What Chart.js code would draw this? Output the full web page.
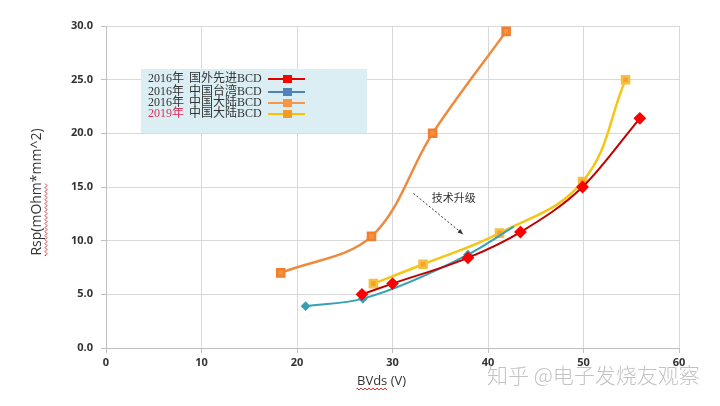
<!DOCTYPE html>
<html><head><meta charset="utf-8">
<script src="https://cdn.jsdelivr.net/npm/chart.js@4/dist/chart.umd.min.js"></script>
<style>html,body{margin:0;padding:0;background:#fff}#wrap{width:720px;height:406px;position:relative}</style>
</head><body><div id="wrap"><canvas id="c" width="720" height="406"></canvas></div>
<script>
const seriesLabels = ['国外先进BCD', '中国台湾BCD', '中国大陆BCD', '中国大陆BCD'];
const seriesYears = ['2016年', '2016年', '2016年', '2019年'];
const redX = [26.8, 30.0, 37.9, 43.4, 49.9, 55.9];
const redY = [5.0, 6.0, 8.4, 10.8, 15.0, 21.4];
const tealX = [20.9, 26.9, 37.9, 42.7];
const tealY = [3.9, 4.6, 8.7, 11.3];
const orangeX = [18.3, 27.8, 34.2, 41.9];
const orangeY = [7.0, 10.4, 20.0, 29.5];
const yellowX = [28.0, 33.2, 41.2, 49.9, 54.4];
const yellowY = [6.0, 7.8, 10.7, 15.5, 25.0];
const xTicks = [0, 10, 20, 30, 40, 50, 60];
const yTicks = [0, 5, 10, 15, 20, 25, 30];
const xTitle = 'BVds (V)';
const yTitle = 'Rsp(mOhm*mm^2)';
const noteText = '技术升级';
const watermark = '知乎 @电子发烧友观察';

const pts = (xs, ys) => xs.map((x, i) => ({x, y: ys[i]}));

function wavy(ctx, x0, x1, y, color) {
  ctx.save(); ctx.strokeStyle = color; ctx.lineWidth = 1; ctx.beginPath();
  let up = true; ctx.moveTo(x0, y);
  for (let x = x0; x <= x1; x += 2) { ctx.lineTo(x, y + (up ? -1 : 1)); up = !up; }
  ctx.stroke(); ctx.restore();
}

const extras = {
  id: 'extras',
  afterDraw(chart) {
    const ctx = chart.ctx, xs = chart.scales.x, ys = chart.scales.y;
    ctx.save();
    ctx.fillStyle = '#dbeef4';
    ctx.fillRect(141, 69, 226, 64);
    const rows = [79, 92, 103, 114];
    const legendColors = [['#e00000', '#ff0000'], ['#4f81bd', '#4f81bd'], ['#f79646', '#f79646'], ['#ffc000', '#f59a23']];
    ctx.font = '12px "Liberation Serif", "Noto Sans CJK SC", serif';
    ctx.textBaseline = 'middle';
    rows.forEach((ry, i) => {
      ctx.fillStyle = i === 3 ? '#d9305c' : '#333333';
      ctx.fillText(seriesYears[i], 148, ry);
      ctx.fillStyle = '#333333';
      ctx.fillText(seriesLabels[i], 189, ry);
      ctx.strokeStyle = legendColors[i][0]; ctx.lineWidth = 2;
      ctx.beginPath(); ctx.moveTo(268, ry); ctx.lineTo(305, ry); ctx.stroke();
      ctx.fillStyle = legendColors[i][1];
      ctx.fillRect(283, ry - 4, 9, 8);
    });
    ctx.fillStyle = '#333333';
    ctx.font = '11px "Liberation Serif", "Noto Sans CJK SC", serif';
    ctx.fillText(noteText, xs.getPixelForValue(34.1), ys.getPixelForValue(13.9));
    const ax0 = xs.getPixelForValue(32.2), ay0 = ys.getPixelForValue(14.4);
    const ax1 = xs.getPixelForValue(37.4), ay1 = ys.getPixelForValue(10.6);
    ctx.strokeStyle = '#333333'; ctx.lineWidth = 1; ctx.setLineDash([2, 2]);
    ctx.beginPath(); ctx.moveTo(ax0, ay0); ctx.lineTo(ax1, ay1); ctx.stroke();
    ctx.setLineDash([]);
    const ang = Math.atan2(ay1 - ay0, ax1 - ax0);
    ctx.fillStyle = '#333333'; ctx.beginPath();
    ctx.moveTo(ax1, ay1);
    ctx.lineTo(ax1 - 6 * Math.cos(ang - 0.4), ay1 - 6 * Math.sin(ang - 0.4));
    ctx.lineTo(ax1 - 6 * Math.cos(ang + 0.4), ay1 - 6 * Math.sin(ang + 0.4));
    ctx.closePath(); ctx.fill();
    ctx.fillStyle = '#333333';
    ctx.font = '13px "Open Sans", "Liberation Sans", sans-serif';
    ctx.textBaseline = 'middle'; ctx.textAlign = 'left';
    ctx.fillText(xTitle, 357, 381);
    const bw = ctx.measureText('BVds').width;
    wavy(ctx, 357, 357 + bw, 389, '#e03030');
    ctx.save();
    ctx.translate(37, 192); ctx.rotate(-Math.PI / 2);
    ctx.textAlign = 'center';
    ctx.font = '14px "Open Sans", "Liberation Sans", sans-serif';
    ctx.fillText(yTitle, 0, 0);
    const tw = ctx.measureText(yTitle).width;
    const sw = ctx.measureText('Rsp(mOhm').width;
    wavy(ctx, -tw / 2, -tw / 2 + sw, 9, '#e03030');
    ctx.restore();
    ctx.fillStyle = 'rgba(170,170,170,0.7)';
    ctx.font = '300 21px "Noto Sans CJK SC", sans-serif';
    ctx.textAlign = 'left';
    ctx.fillText(watermark, 487, 375);
    ctx.restore();
  }
};

new Chart(document.getElementById('c'), {
  type: 'scatter',
  data: {
    datasets: [
      { label: seriesYears[0] + ' ' + seriesLabels[0], data: pts(redX, redY), showLine: true, cubicInterpolationMode: 'monotone',
        borderColor: '#c00000', borderWidth: 2, pointStyle: 'rectRot', pointRadius: 5,
        pointBackgroundColor: '#ff0000', pointBorderColor: '#ff0000' },
      { label: seriesYears[1] + ' ' + seriesLabels[1], data: pts(tealX, tealY), showLine: true, cubicInterpolationMode: 'monotone',
        borderColor: '#35a0b4', borderWidth: 2, pointStyle: 'rectRot', pointRadius: [3.5, 3.5, 3.5, 0],
        pointBackgroundColor: '#35a0b4', pointBorderColor: '#35a0b4' },
      { label: seriesYears[2] + ' ' + seriesLabels[2], data: pts(orangeX, orangeY), showLine: true, tension: 0.35,
        borderColor: '#ee8a3c', borderWidth: 2.5, pointStyle: 'rect', pointRadius: 5,
        pointBackgroundColor: '#f7923a', pointBorderColor: '#f08030' },
      { label: seriesYears[3] + ' ' + seriesLabels[3], data: pts(yellowX, yellowY), showLine: true, tension: 0.4,
        borderColor: '#f5c518', borderWidth: 2.5, pointStyle: 'rect', pointRadius: 5,
        pointBackgroundColor: '#f7a030', pointBorderColor: '#f5c040' }
    ]
  },
  options: {
    responsive: false, animation: false,
    layout: { padding: { left: 0, right: 41, top: 26, bottom: 0 } },
    plugins: { legend: { display: false }, tooltip: { enabled: false } },
    scales: {
      x: {
        type: 'linear', min: 0, max: 60,
        afterFit(s) { s.height = 58; },
        afterBuildTicks(s) { s.ticks = xTicks.map(v => ({value: v})); },
        grid: { color: '#d9d9d9', tickLength: 5, tickColor: '#bfbfbf' },
        border: { color: '#bfbfbf' },
        ticks: { padding: 3, color: '#333', font: { family: '"Open Sans", sans-serif', size: 11, weight: 'bold' } }
      },
      y: {
        type: 'linear', min: 0, max: 30,
        afterFit(s) { s.width = 106; },
        afterBuildTicks(s) { s.ticks = yTicks.map(v => ({value: v})); },
        grid: { color: '#d9d9d9', tickLength: 5, tickColor: '#bfbfbf' },
        border: { color: '#bfbfbf' },
        ticks: { padding: 8, color: '#333', callback: v => Number(v).toFixed(1),
          font: { family: '"Open Sans", sans-serif', size: 11, weight: 'bold' } }
      }
    }
  },
  plugins: [extras]
});
</script></body></html>
